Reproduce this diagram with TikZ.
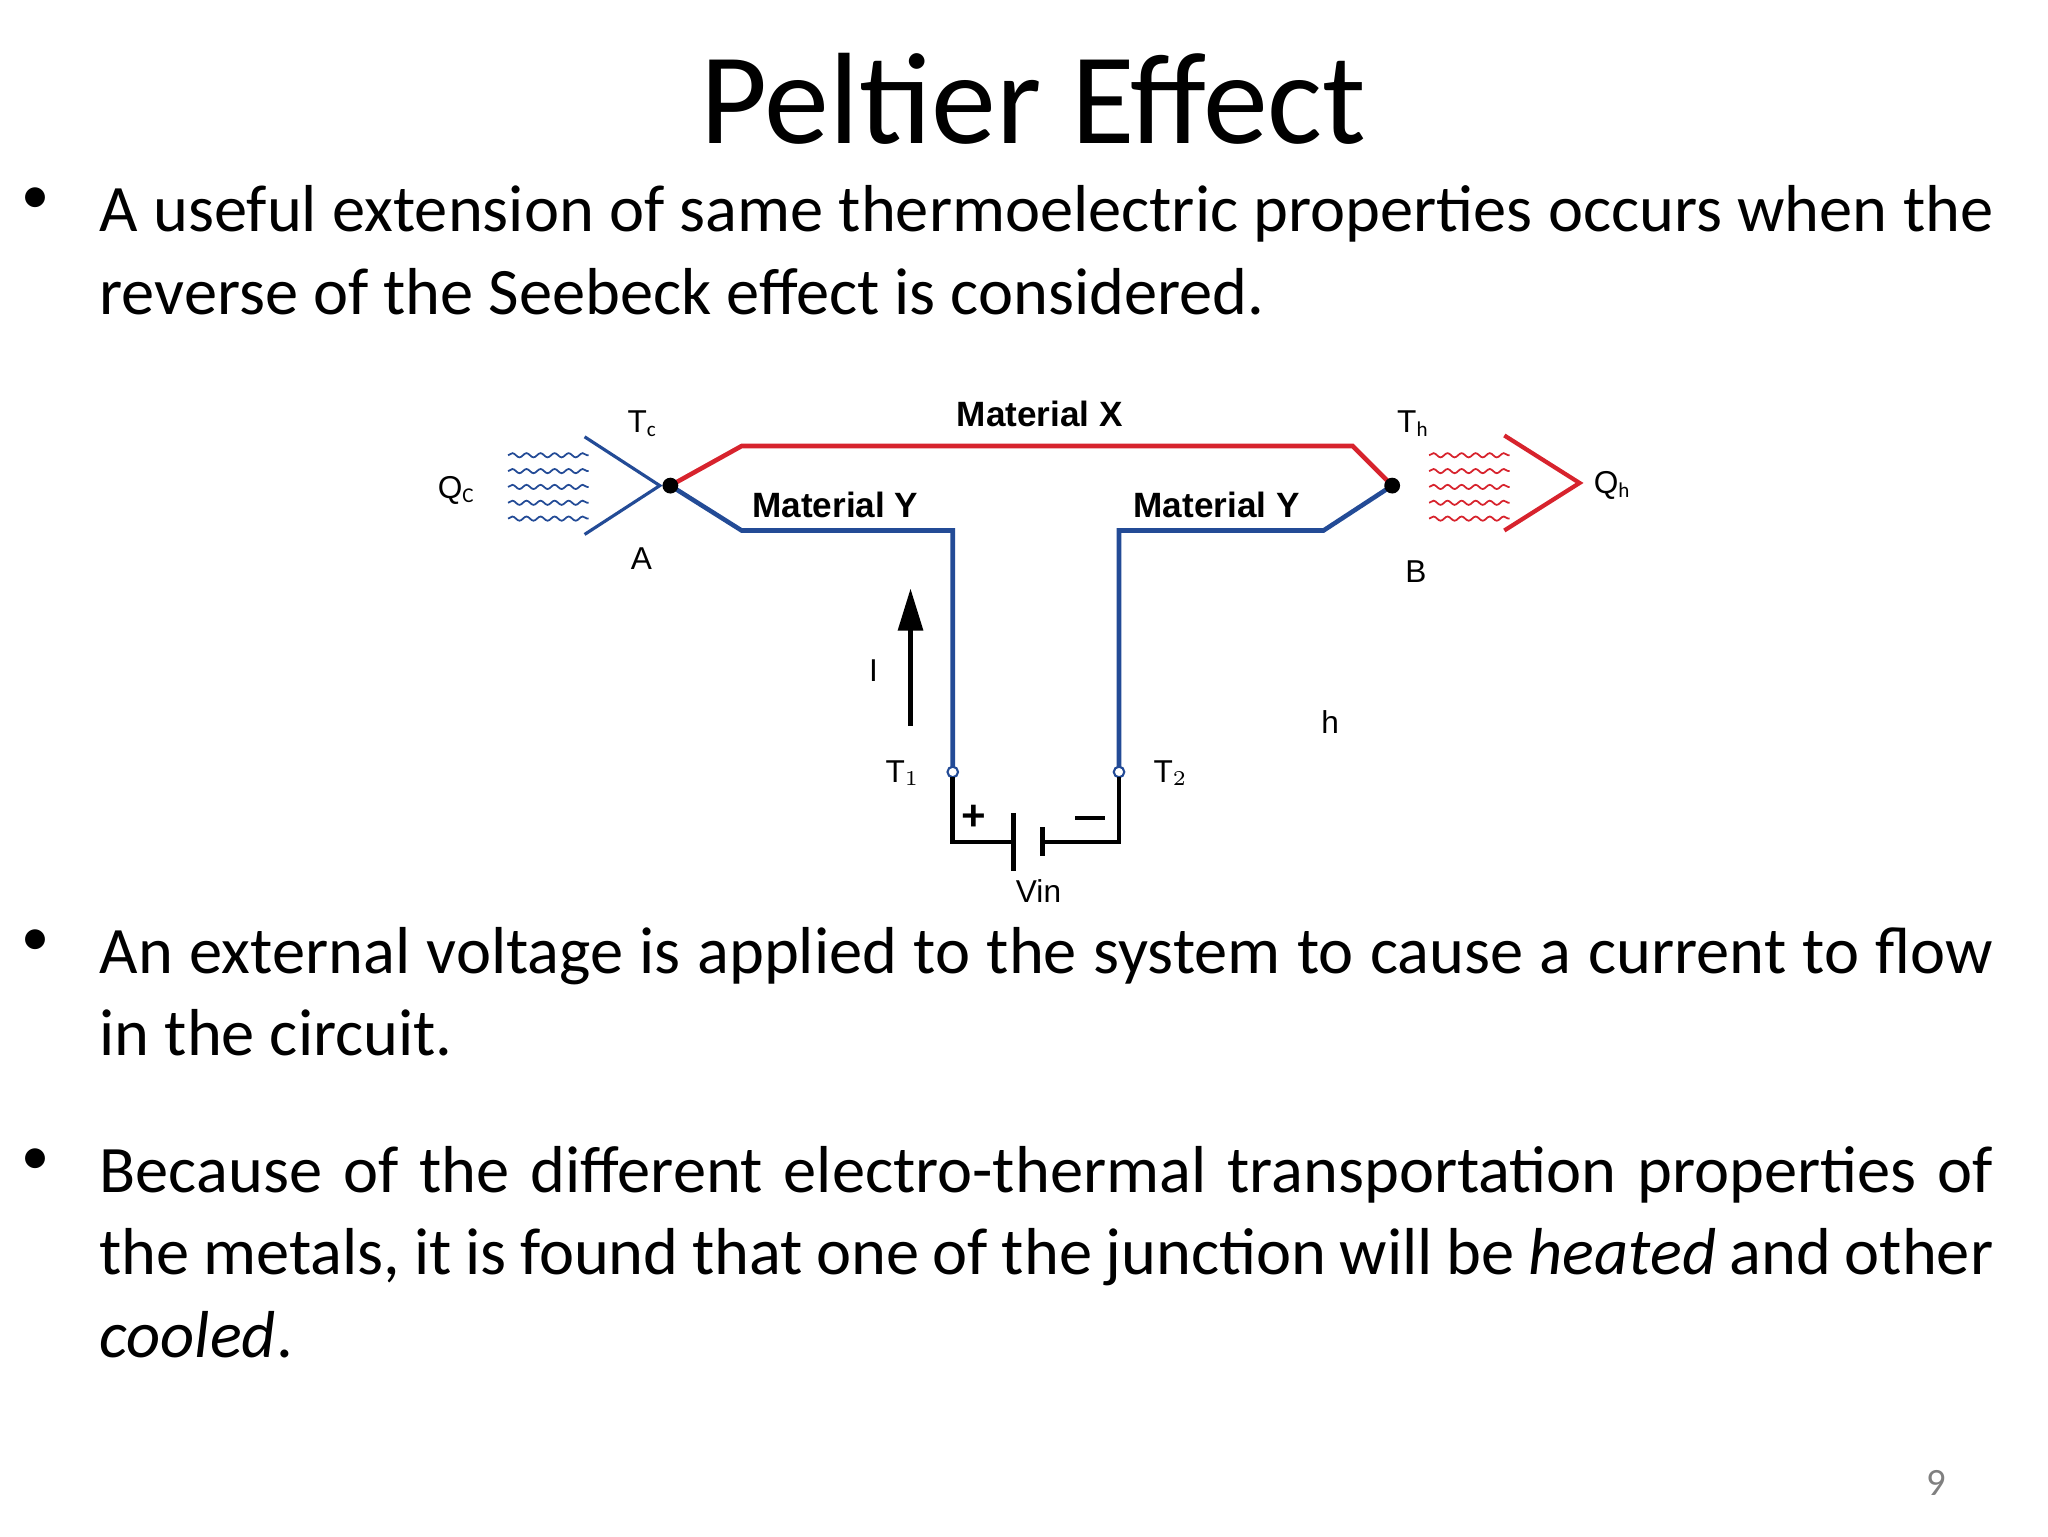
\documentclass[tikz,border=0pt]{standalone}
\usepackage{fontspec}
\setmainfont{Carlito}
\newfontfamily\diag{Liberation Sans}
\usetikzlibrary{decorations.pathmorphing,arrows.meta}
\definecolor{wred}{RGB}{215,35,45}
\definecolor{wblue}{RGB}{35,75,150}
\newcommand{\nohyph}{\hyphenpenalty=10000\relax\exhyphenpenalty=10000\relax}
\tikzset{
 body/.style={anchor=north west,text width=18.94cm,align=justify,inner sep=0pt,font=\fontsize{18.9}{23.5}\selectfont\nohyph},
 bul/.style={anchor=north west,inner sep=0pt,font=\fontsize{16}{23.5}\selectfont},
 lab/.style={font=\diag\fontsize{9}{10}\selectfont,inner sep=1pt},
 mat/.style={font=\diag\bfseries\fontsize{10}{11}\selectfont,inner sep=1pt},
 rw/.style={wred,line width=1.3pt},
 bw/.style={wblue,line width=1.3pt},
 kw/.style={black,line width=1.3pt},
 wave/.style={decorate,decoration={snake,amplitude=0.6pt,segment length=4pt},line width=0.5pt},
}
\begin{document}
\begin{tikzpicture}[x=0.013196cm,y=-0.013196cm]
\useasboundingbox (0,0) rectangle (1552,1164);
\node[font=\fontsize{37}{40}\selectfont] (title) at (783,75) {Peltier Effect};
\node[bul] (b1) at (16,142) {\textbullet};
\node[body] (t1) at (75,140) {A useful extension of same thermoelectric properties occurs when the reverse of the Seebeck effect is considered.};
\node[bul] (b2) at (16,704) {\textbullet};
\node[body] (t2) at (75,702) {An external voltage is applied to the system to cause a current to flow in the circuit.};
\node[bul] (b3) at (16,870) {\textbullet};
\node[body] (t3) at (75,868) {Because of the different electro-thermal transportation properties of the metals, it is found that one of the junction will be \textit{heated} and other \textit{cooled}.};
\node[font=\fontsize{11}{12}\selectfont,text=gray] (pg) at (1467,1124) {9};
% diagram
\coordinate (A) at (508,368); \coordinate (B) at (1055,368);
\coordinate (T1) at (722,582); \coordinate (T2) at (848,582);
\draw[rw] (A) -- (562,338) -- (1025,338) -- (B);
\draw[bw] (A) -- (562,402) -- (722,402) -- (T1);
\draw[bw] (B) -- (1003,402) -- (848,402) -- (T2);
\fill (A) circle (6); \fill (B) circle (6);
\draw[wblue,line width=0.6pt,fill=white] (722,585) circle (4);
\draw[wblue,line width=0.6pt,fill=white] (848,585) circle (4);
\draw[kw] (722,589) -- (722,638) -- (768,638);
\draw[kw] (848,589) -- (848,638) -- (790,638);
\draw[kw] (768,616) -- (768,660);
\draw[kw] (790,627) -- (790,649);
\node[font=\bfseries\fontsize{13}{13}\selectfont] (plus) at (738,620) {+};
\coordinate (m1) at (815,620); \coordinate (m2) at (837,620);
\draw[kw] (m1) -- (m2);
\node[lab] (vin) at (787,675) {Vin};
\draw[-{Triangle[length=12pt,width=7pt]},line width=1.3pt] (690,550) -- (690,446);
\node[lab] (I) at (662,508) {I};
\node[lab] (t1l) at (684,586) {T$_1$};
\node[lab] (t2l) at (887,586) {T$_2$};
\node[lab] (tc) at (487,321) {T$_\mathrm{c}$};
\node[lab] (th) at (1071,321) {T$_\mathrm{h}$};
\node[lab] (al) at (486,423) {A};
\node[lab] (bl) at (1073,433) {B};
\node[lab] (hl) at (1008,547) {h};
\node[mat] (mx) at (788,314) {Material X};
\node[mat] (my1) at (633,383) {Material Y};
\node[mat] (my2) at (922,383) {Material Y};
\node[lab] (qc) at (346,372) {Q$_\mathrm{C}$};
\node[lab] (qh) at (1222,368) {Q$_\mathrm{h}$};
\draw[wblue,line width=0.9pt] (443,331) -- (500,368) -- (443,405);
\draw[wred,line width=1.2pt] (1140,330) -- (1197,366) -- (1140,402);
\foreach \yy in {345,357,369,381,393} {
 \draw[wave,wblue] (385,\yy) -- (446,\yy);
 \draw[wave,wred] (1083,\yy) -- (1144,\yy);
}
\end{tikzpicture}
\end{document}
